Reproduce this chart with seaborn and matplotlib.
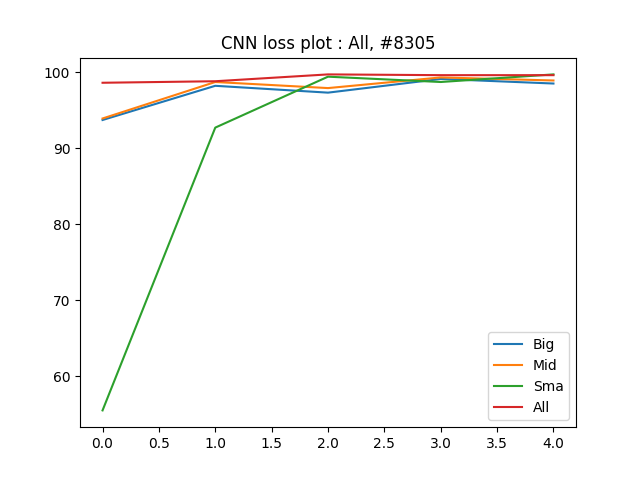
import matplotlib
matplotlib.use("Agg")
import matplotlib.pyplot as plt
import seaborn as sns
import pandas as pd

epochs = [0, 1, 2, 3, 4]
big = [93.7, 98.2, 97.3, 99.1, 98.5]
mid = [93.9, 98.7, 97.9, 99.3, 98.9]
sma = [55.5, 92.7, 99.4, 98.7, 99.7]
all_ = [98.6, 98.8, 99.7, 99.6, 99.6]

df = pd.DataFrame({"epoch": epochs * 4,
                   "value": big + mid + sma + all_,
                   "series": ["Big"] * 5 + ["Mid"] * 5 + ["Sma"] * 5 + ["All"] * 5})

fig, ax = plt.subplots(figsize=(6.4, 4.8), dpi=100)
sns.lineplot(data=df, x="epoch", y="value", hue="series", ax=ax,
             palette=["#1f77b4", "#ff7f0e", "#2ca02c", "#d62728"])
ax.set_title("CNN loss plot : All, #8305")
ax.set_xlabel("")
ax.set_ylabel("")
ax.legend(loc="lower right")
fig.savefig("out.png")
